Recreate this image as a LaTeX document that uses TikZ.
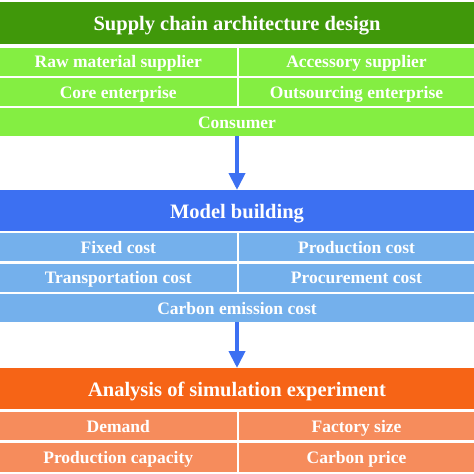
\documentclass[tikz,border=0pt]{standalone}
\usepackage{fontspec}
\setmainfont{Liberation Serif}
\usetikzlibrary{arrows.meta}
\definecolor{dgreen}{RGB}{64,152,10}
\definecolor{lgreen}{RGB}{132,238,66}
\definecolor{dblue}{RGB}{60,112,242}
\definecolor{lblue}{RGB}{116,176,236}
\definecolor{dorange}{RGB}{246,100,22}
\definecolor{lorange}{RGB}{246,140,92}
\tikzset{
  cell/.style={rectangle, inner sep=0pt, outer sep=0pt, text=white,
    text height=12pt, text depth=0pt,
    font=\fontsize{17.5}{18}\selectfont\bfseries},
  head/.style={rectangle, inner sep=0pt, outer sep=0pt, text=white,
    text height=15pt, text depth=0pt,
    font=\fontsize{20.5}{22}\selectfont\bfseries},
  flow/.style={draw=dblue, line width=4pt, -{Triangle[width=16pt,length=17pt]}}
}
\begin{document}
\begin{tikzpicture}[x=1pt,y=-1pt]
\useasboundingbox (0,0) rectangle (474,474);
% Section 1
\node[head, fill=dgreen, minimum width=474pt, minimum height=42pt] (h1) at (237,23) {Supply chain architecture design};
\node[cell, fill=lgreen, minimum width=236.5pt, minimum height=28pt] (a1) at (118.25,61.5) {Raw material supplier};
\node[cell, fill=lgreen, minimum width=235pt, minimum height=28pt] (a2) at (356.5,61.5) {Accessory supplier};
\node[cell, fill=lgreen, minimum width=236.5pt, minimum height=28pt] (a3) at (118.25,92) {Core enterprise};
\node[cell, fill=lgreen, minimum width=235pt, minimum height=28pt] (a4) at (356.5,92) {Outsourcing enterprise};
\node[cell, fill=lgreen, minimum width=474pt, minimum height=28pt] (a5) at (237,122) {Consumer};
% Section 2
\node[head, fill=dblue, minimum width=474pt, minimum height=41pt] (h2) at (237,210.5) {Model building};
\node[cell, fill=lblue, minimum width=236.5pt, minimum height=28pt] (b1) at (118.25,247) {Fixed cost};
\node[cell, fill=lblue, minimum width=235pt, minimum height=28pt] (b2) at (356.5,247) {Production cost};
\node[cell, fill=lblue, minimum width=236.5pt, minimum height=28pt] (b3) at (118.25,277.5) {Transportation cost};
\node[cell, fill=lblue, minimum width=235pt, minimum height=28pt] (b4) at (356.5,277.5) {Procurement cost};
\node[cell, fill=lblue, minimum width=474pt, minimum height=28pt] (b5) at (237,308) {Carbon emission cost};
% Section 3
\node[head, fill=dorange, minimum width=474pt, minimum height=41pt] (h3) at (237,388.5) {Analysis of simulation experiment};
\node[cell, fill=lorange, minimum width=236.5pt, minimum height=28pt] (c1) at (118.25,426) {Demand};
\node[cell, fill=lorange, minimum width=235pt, minimum height=28pt] (c2) at (356.5,426) {Factory size};
\node[cell, fill=lorange, minimum width=236.5pt, minimum height=29pt] (c3) at (118.25,457.5) {Production capacity};
\node[cell, fill=lorange, minimum width=235pt, minimum height=29pt] (c4) at (356.5,457.5) {Carbon price};
% Arrows
\draw[flow] (a5.south) -- (h2.north);
\draw[flow] (b5.south) -- (h3.north);
\end{tikzpicture}
\end{document}
